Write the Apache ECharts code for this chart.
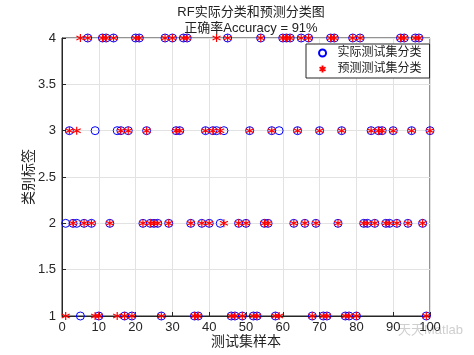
<!DOCTYPE html>
<html>
<head>
<meta charset="utf-8">
<script src="https://cdn.jsdelivr.net/npm/echarts@6/dist/echarts.min.js"></script>
<style>html,body{margin:0;padding:0;background:#fff;}#c{width:474px;height:355px;}</style>
</head>
<body>
<div id="c"></div>
<script>
// Sample labels for test samples 1..100
const actualLabels = [
  2,3,2,2,1,2,4,2,3,1,
  4,4,2,4,3,3,1,3,1,4,
  4,2,3,2,2,2,1,4,2,4,
  3,3,4,4,2,1,1,2,3,2,
  3,3,2,3,4,1,1,2,1,2,
  3,1,1,4,2,2,3,1,3,4,
  4,4,2,3,4,2,4,1,2,3,
  1,1,4,4,2,3,1,1,4,1,
  4,2,2,3,2,3,3,2,2,3,
  2,4,4,2,3,4,4,2,1,3
];
const predictedLabels = [
  1,3,2,3,4,2,4,2,1,1,
  4,4,2,4,1,3,1,3,1,4,
  4,2,3,2,2,2,1,4,2,4,
  3,3,4,4,2,1,1,2,3,2,
  3,4,3,2,4,1,1,2,1,2,
  3,1,1,4,2,2,3,1,1,4,
  4,4,2,3,4,2,4,1,2,3,
  1,1,4,4,2,3,1,1,4,1,
  4,2,2,3,2,3,3,2,2,3,
  2,4,4,2,3,4,4,2,1,3
];
const titleLine1 = 'RF实际分类和预测分类图';
const titleLine2 = '正确率Accuracy = 91%';
const seriesNames = ['实际测试集分类', '预测测试集分类'];
const xName = '测试集样本';
const yName = '类别标签';

const actualData = actualLabels.map((v, i) => [i + 1, v]);
const predData = predictedLabels.map((v, i) => [i + 1, v]);

const FONT = '"Liberation Sans", "Noto Sans CJK SC", sans-serif';
const starPath = 'path://M5,0L5,10M0.67,2.5L9.33,7.5M0.67,7.5L9.33,2.5';

const chart = echarts.init(document.getElementById('c'), null, {renderer: 'canvas'});
chart.setOption({
  animation: false,
  backgroundColor: '#ffffff',
  textStyle: {fontFamily: FONT},
  title: [
    {text: titleLine1, left: 246, top: 1, textAlign: 'center',
     textStyle: {fontSize: 13, fontWeight: 'normal', color: '#222', fontFamily: FONT}},
    {text: titleLine2, left: 246, top: 17, textAlign: 'center',
     textStyle: {fontSize: 13, fontWeight: 'normal', color: '#222', fontFamily: FONT}}
  ],
  grid: {left: 62, right: 44, top: 38, bottom: 39, show: true,
         outerBoundsMode: 'none', containLabel: false,
         borderColor: '#262626', borderWidth: 1, backgroundColor: 'transparent'},
  legend: {
    left: 306, top: 44, orient: 'vertical',
    itemWidth: 20, itemHeight: 7, itemGap: 4,
    padding: [3, 8, 3, 11],
    borderColor: '#262626', borderWidth: 1, backgroundColor: '#fff',
    textStyle: {fontSize: 12, color: '#222', fontFamily: FONT},
    data: seriesNames
  },
  xAxis: {
    type: 'value', min: 0, max: 100, interval: 10,
    name: xName, nameLocation: 'middle', nameGap: 19, nameMoveOverlap: false,
    nameTextStyle: {fontSize: 14, color: '#222', fontFamily: FONT, verticalAlign: 'top'},
    axisLine: {show: true, lineStyle: {color: '#262626', width: 1}},
    axisTick: {show: true, inside: true, length: 4, lineStyle: {color: '#262626'}},
    axisLabel: {fontSize: 13, color: '#262626', margin: 5, fontFamily: FONT},
    splitLine: {show: true, lineStyle: {color: '#e2e2e2', width: 1}}
  },
  yAxis: {
    type: 'value', min: 1, max: 4, interval: 0.5,
    name: yName, nameLocation: 'middle', nameGap: 26, nameRotate: 90, nameMoveOverlap: false,
    nameTextStyle: {fontSize: 14, color: '#222', fontFamily: FONT},
    axisLine: {show: true, lineStyle: {color: '#262626', width: 1}},
    axisTick: {show: true, inside: true, length: 4, lineStyle: {color: '#262626'}},
    axisLabel: {fontSize: 13, color: '#262626', margin: 6, fontFamily: FONT},
    splitLine: {show: true, lineStyle: {color: '#e2e2e2', width: 1}}
  },
  series: [
    {
      name: seriesNames[0], type: 'scatter', data: actualData,
      symbol: 'circle', symbolSize: 8,
      itemStyle: {color: 'rgba(0,0,0,0)', borderColor: '#0000ff', borderWidth: 1, opacity: 1},
      z: 2
    },
    {
      name: seriesNames[1], type: 'scatter', data: predData,
      symbol: starPath, symbolSize: 8,
      itemStyle: {color: 'none', borderColor: '#ff0000', borderWidth: 1.2, opacity: 1},
      z: 3
    }
  ],
  graphic: [
    {type: 'text', left: 398, top: 324,
     style: {text: '天天Matlab', fill: '#cfcfcf', font: '13px ' + FONT}}
  ]
});
</script>
</body>
</html>
